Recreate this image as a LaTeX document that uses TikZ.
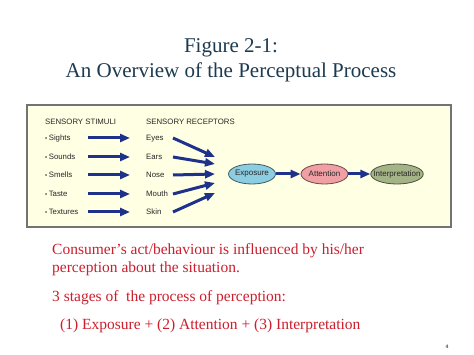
\documentclass[tikz,border=0pt]{standalone}
\usepackage{fontspec}
\setmainfont{Liberation Serif}
\newfontfamily\diagfont{Liberation Sans}
\usetikzlibrary{arrows.meta, shapes.geometric, positioning}
\definecolor{TitleTeal}{RGB}{28,58,80}
\definecolor{NoteRed}{RGB}{205,30,45}
\definecolor{ArrowBlue}{RGB}{30,50,140}
\definecolor{PanelCream}{RGB}{255,255,228}
\definecolor{PanelGray}{RGB}{115,115,115}
\definecolor{ExpBlue}{RGB}{140,205,225}
\definecolor{AttPink}{RGB}{240,160,165}
\definecolor{IntGreen}{RGB}{165,180,135}
\newcommand{\itembullet}{{\fontsize{6}{6}\selectfont\textbullet}\hspace{1.5pt}}
\tikzset{
  flow/.style={draw=ArrowBlue, line width=3pt, -{Triangle[length=10pt,width=8pt]}},
  stage/.style={ellipse, fill=#1, draw=#1!45!black, line width=0.8pt,
                minimum width=47pt, minimum height=20pt, inner xsep=-1pt, inner ysep=0pt,
                text=black!85, font=\diagfont\fontsize{8}{9}\selectfont},
  item/.style={anchor=west, inner sep=0pt, text height=1.5ex, text depth=.25ex,
               text=black!85, font=\diagfont\fontsize{7.8}{9}\selectfont},
  note/.style={anchor=base west, inner sep=0pt, text=NoteRed,
               font=\fontsize{15.5}{18}\selectfont},
  headline/.style={anchor=base, inner sep=0pt, text=TitleTeal,
                   font=\fontsize{21}{25}\selectfont}
}
\begin{document}
\begin{tikzpicture}[x=1pt, y=-1pt]
  \fill[white] (0,0) rectangle (474,355);
  \useasboundingbox (0,0) rectangle (474,355);

  % title
  \node[headline] (title1) at (231,53) {Figure 2-1:};
  \node[headline] (title2) at (231,78) {An Overview of the Perceptual Process};

  % panel
  \draw[draw=PanelGray, line width=2pt, fill=PanelCream] (27,105) rectangle (451,227);
  \node[item] (hdstim) at (45,122) {SENSORY STIMULI};
  \node[item] (hdrec) at (146,122) {SENSORY RECEPTORS};

  \foreach \stim/\rec/\y/\ty [count=\i] in
      {Sights/Eyes/138/157, Sounds/Ears/157/164, Smells/Nose/175/174,
       Taste/Mouth/194/183, Textures/Skin/212/193} {
    \node[item] (stim\i) at (45,\y) {\itembullet\stim};
    \node[item] (rec\i) at (146,\y) {\rec};
    \coordinate (a\i) at (88,\y);
    \coordinate (d\i) at (173,\y);
    \coordinate (in\i) at (215,\ty);
    \draw[flow, shorten >=16pt] (a\i) -- (rec\i.west);
    \draw[flow] (d\i) -- (in\i);
  }

  % stages
  \node[stage=ExpBlue] (exp) at (252,174) {Exposure};
  \node[stage=AttPink] (att) at (324.5,174) {Attention};
  \node[stage=IntGreen, minimum width=51pt, inner xsep=-5pt] (int) at (397,174) {Interpretation};
  \draw[flow] (exp) -- (att);
  \draw[flow] (att) -- (int);

  % notes
  \node[note] (note1) at (52,255) {Consumer’s act/behaviour is influenced by his/her};
  \node[note] (note2) at (52,273) {perception about the situation.};
  \node[note] (note3) at (52,302) {3 stages of\ \ the process of perception:};
  \node[note] (note4) at (60,330) {(1) Exposure + (2) Attention + (3) Interpretation};

  \node[inner sep=0pt, text=black!70, font=\diagfont\bfseries\fontsize{5}{6}\selectfont]
    (pagenum) at (447,347) {4};
\end{tikzpicture}
\end{document}
